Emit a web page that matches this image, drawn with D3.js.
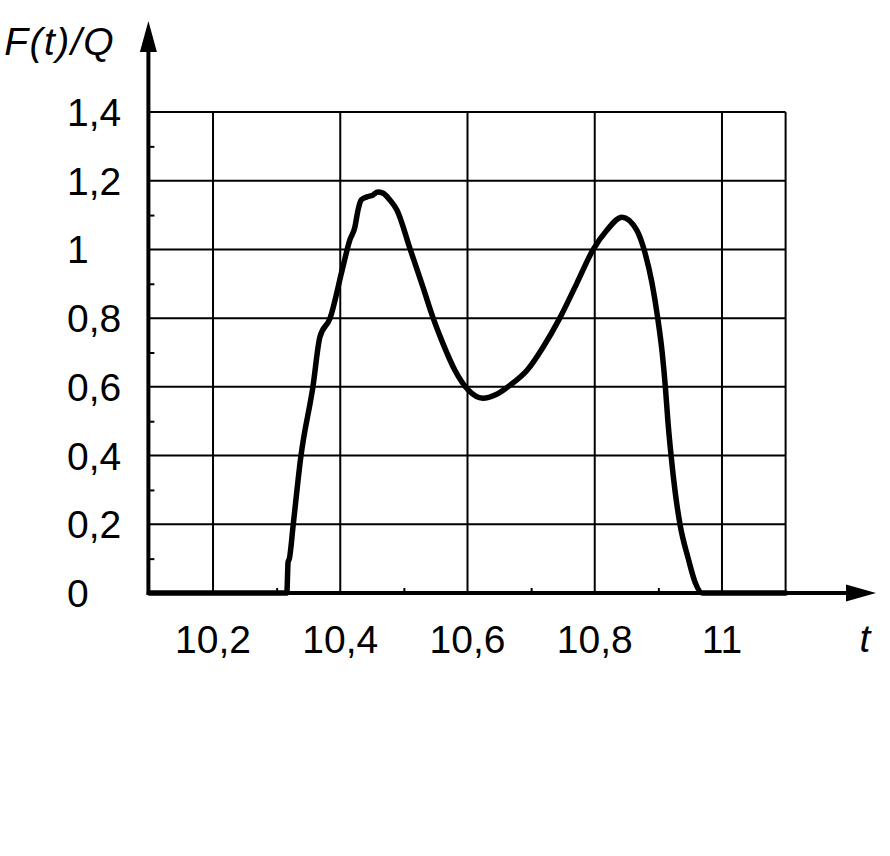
<!DOCTYPE html>
<html>
<head>
<meta charset="utf-8">
<script src="https://cdn.jsdelivr.net/npm/d3@7"></script>
<style>
  html, body { margin: 0; padding: 0; background: #fff; }
  svg { display: block; }
  text { font-family: "Liberation Sans", Arial, sans-serif; fill: #000; }
</style>
</head>
<body>
<svg id="chart" width="890" height="856"></svg>
<script>
// curve: t and F(t)/Q
const T_VALUES = [10.1, 10.313, 10.316, 10.318, 10.32, 10.326, 10.338, 10.357, 10.368, 10.384,
  10.403, 10.415, 10.423, 10.428, 10.433, 10.442, 10.451, 10.459, 10.467, 10.478, 10.489,
  10.51, 10.53, 10.546, 10.561, 10.58, 10.601, 10.624, 10.645, 10.667, 10.694, 10.719,
  10.745, 10.772, 10.797, 10.819, 10.843, 10.866, 10.879, 10.89, 10.899, 10.906, 10.911,
  10.915, 10.92, 10.926, 10.934, 10.947, 10.958, 10.969, 11.1];
const F_VALUES = [0, 0, 0, 0.09, 0.1, 0.198, 0.396, 0.6, 0.745, 0.8,
  0.94, 1.027, 1.065, 1.115, 1.144, 1.153, 1.158, 1.167, 1.164, 1.144, 1.115,
  1.0, 0.89, 0.8, 0.728, 0.649, 0.591, 0.567, 0.578, 0.605, 0.649, 0.716,
  0.8, 0.902, 0.998, 1.056, 1.094, 1.056, 0.99, 0.902, 0.8, 0.7, 0.6,
  0.5, 0.4, 0.3, 0.2, 0.1, 0.03, 0, 0];

const X_GRID = [10.2, 10.4, 10.6, 10.8, 11, 11.1];
const X_LABELS = [10.2, 10.4, 10.6, 10.8, 11];
const X_MINOR = [10.3, 10.5, 10.7, 10.9];
const Y_GRID = [0.2, 0.4, 0.6, 0.8, 1, 1.2, 1.4];
const Y_LABELS = [0, 0.2, 0.4, 0.6, 0.8, 1, 1.2, 1.4];
const Y_MINOR = [0.1, 0.3, 0.5, 0.7, 0.9, 1.1, 1.3];

const FONT_SIZE = 39;
const fmt = v => String(v).replace('.', ',');

const svg = d3.select('#chart');

const x = d3.scaleLinear().domain([10.1, 11.1]).range([149.4, 785.6]);
const y = d3.scaleLinear().domain([0, 1.4]).range([593, 112]);

// grid
const grid = svg.append('g').attr('stroke', '#000').attr('stroke-width', 2);
grid.selectAll('.h').data(Y_GRID).enter().append('line')
  .attr('x1', x(10.1)).attr('x2', x(11.1))
  .attr('y1', d => y(d)).attr('y2', d => y(d));
grid.selectAll('.v').data(X_GRID).enter().append('line')
  .attr('x1', d => x(d)).attr('x2', d => x(d))
  .attr('y1', y(0)).attr('y2', y(1.4));

// minor ticks via d3 axes (ticks pointing inside the plot)
svg.append('g')
  .attr('transform', `translate(${x(10.1) - 1},0)`)
  .call(d3.axisRight(y).tickValues(Y_MINOR).tickSize(6).tickFormat(''))
  .call(g => g.select('.domain').remove())
  .call(g => g.selectAll('line').attr('stroke-width', 2));
svg.append('g')
  .attr('transform', `translate(0,${y(0) + 1})`)
  .call(d3.axisTop(x).tickValues(X_MINOR).tickSize(6).tickFormat(''))
  .call(g => g.select('.domain').remove())
  .call(g => g.selectAll('line').attr('stroke-width', 2));

// axes with arrows
const axX = x(10.1) - 1;
const axY = y(0);
svg.append('line').attr('x1', axX).attr('x2', 846).attr('y1', axY).attr('y2', axY)
  .attr('stroke', '#000').attr('stroke-width', 4);
svg.append('path').attr('d', `M846,${axY - 8.5}L876,${axY}L846,${axY + 8.5}Z`).attr('fill', '#000');
svg.append('line').attr('x1', axX).attr('x2', axX).attr('y1', axY + 2).attr('y2', 50)
  .attr('stroke', '#000').attr('stroke-width', 4);
svg.append('path').attr('d', `M${axX - 8.5},52L${axX},21L${axX + 8.5},52Z`).attr('fill', '#000');

// curve
const pts = T_VALUES.map((t, i) => [t, F_VALUES[i]]);
const line = d3.line()
  .x(d => x(d[0]))
  .y(d => y(d[1]))
  .curve(d3.curveMonotoneX);
svg.append('path')
  .datum(pts)
  .attr('fill', 'none')
  .attr('stroke', '#000')
  .attr('stroke-width', 5.5)
  .attr('stroke-linejoin', 'round')
  .attr('stroke-linecap', 'round')
  .attr('d', line);

// labels
svg.selectAll('.ylab').data(Y_LABELS).enter().append('text')
  .attr('x', 67).attr('y', d => y(d) + 14)
  .attr('font-size', FONT_SIZE)
  .text(fmt);
svg.selectAll('.xlab').data(X_LABELS).enter().append('text')
  .attr('x', d => x(d)).attr('y', 653)
  .attr('text-anchor', 'middle')
  .attr('font-size', FONT_SIZE)
  .text(fmt);

svg.append('text').attr('x', 115).attr('y', 55)
  .attr('text-anchor', 'end').attr('font-size', FONT_SIZE).attr('font-style', 'italic')
  .attr('letter-spacing', 1.5)
  .text('F(t)/Q');
svg.append('text').attr('x', 865).attr('y', 652)
  .attr('text-anchor', 'middle').attr('font-size', FONT_SIZE).attr('font-style', 'italic')
  .text('t');
</script>
</body>
</html>
